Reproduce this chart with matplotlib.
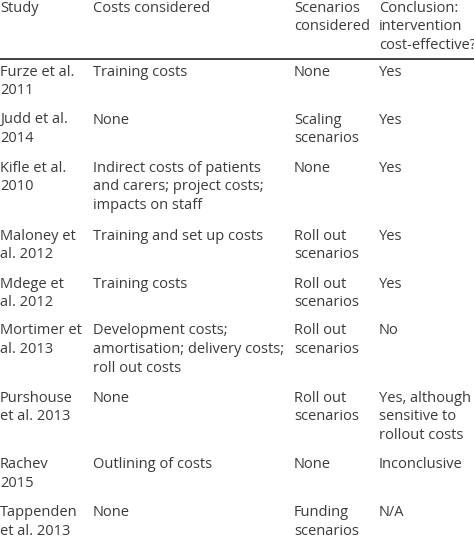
import matplotlib.pyplot as plt

plt.rcParams['font.family'] = ['Open Sans', 'DejaVu Sans']

headers = [["Study"], ["Costs considered"], ["Scenarios", "considered"],
           ["Conclusion:", "intervention", "cost-effective?"]]

studies = [["Furze et al.", "2011"], ["Judd et al.", "2014"], ["Kifle et al.", "2010"],
           ["Maloney et", "al. 2012"], ["Mdege et", "al. 2012"], ["Mortimer et", "al. 2013"],
           ["Purshouse", "et al. 2013"], ["Rachev", "2015"], ["Tappenden", "et al. 2013"]]
costs = [["Training costs"], ["None"],
         ["Indirect costs of patients", "and carers; project costs;", "impacts on staff"],
         ["Training and set up costs"], ["Training costs"],
         ["Development costs;", "amortisation; delivery costs;", "roll out costs"],
         ["None"], ["Outlining of costs"], ["None"]]
scenarios = [["None"], ["Scaling", "scenarios"], ["None"], ["Roll out", "scenarios"],
             ["Roll out", "scenarios"], ["Roll out", "scenarios"], ["Roll out", "scenarios"],
             ["None"], ["Funding", "scenarios"]]
conclusions = [["Yes"], ["Yes"], ["Yes"], ["Yes"], ["Yes"], ["No"],
               ["Yes, although", "sensitive to", "rollout costs"], ["Inconclusive"], ["N/A"]]

row_top = [72, 120, 168, 236, 284, 331, 398, 465, 513]
col_x = [0, 93, 294, 379]
line_h = 18.8
color = "#3a3a3a"

fig = plt.figure(figsize=(4.74, 5.41), dpi=100)
ax = fig.add_axes([0, 0, 1, 1])
ax.set_xlim(0, 474)
ax.set_ylim(541, 0)
ax.axis("off")

def cell(x, y, lines):
    for i, t in enumerate(lines):
        ax.text(x, y + i * line_h, t, fontsize=10.5, color=color, va="center", ha="left")

for x, h in zip(col_x, headers):
    cell(x, 8, h)
ax.plot([0, 474], [59, 59], color="#222222", lw=1.2)

for r, y in enumerate(row_top):
    for x, col in zip(col_x, [studies, costs, scenarios, conclusions]):
        cell(x, y, col[r])

fig.savefig("out.png", dpi=100)
